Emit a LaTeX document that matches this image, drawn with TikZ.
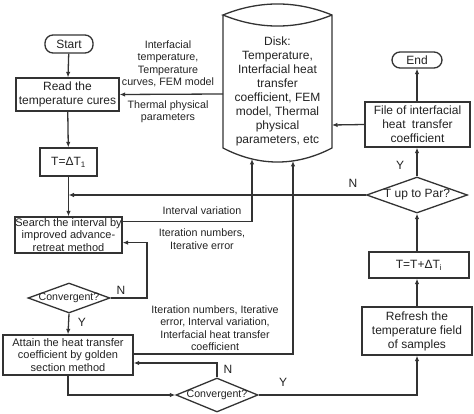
\documentclass[tikz,border=0pt]{standalone}
\usepackage{fontspec}
\setmainfont{Liberation Sans}
\usetikzlibrary{arrows.meta,shapes.geometric,calc}
\definecolor{ln}{HTML}{333333}
\definecolor{tx}{HTML}{222222}
\begin{document}
\begin{tikzpicture}[x=1pt,y=-1pt,
  every node/.style={text=tx},
  line/.style={draw=ln, line width=1.3pt},
  arr/.style={line, -{Latex[length=5.5pt,width=4.5pt]}},
  box/.style={draw=ln, line width=1.3pt, align=center, inner sep=0pt, font=\fontsize{12}{14}\selectfont},
  sbox/.style={box, font=\fontsize{11}{12.6}\selectfont},
  term/.style={box, rounded corners=8pt},
  dia/.style={draw=ln, line width=1.3pt, shape=diamond, inner sep=0pt},
  lab/.style={align=center, inner sep=0pt, font=\fontsize{10.7}{12.4}\selectfont},
  dtext/.style={inner sep=0pt, font=\fontsize{10.6}{12}\selectfont},
  yn/.style={inner sep=0pt, font=\fontsize{12}{14}\selectfont}]
\useasboundingbox (0,0) rectangle (474,414);

% disk outline
\coordinate (dNW) at (223,15);
\coordinate (dSW) at (223,148);
\coordinate (dNE) at (332,15);
\coordinate (dSE) at (332,148);
\coordinate (dL) at (223,94);
\coordinate (dE) at (332,125);
\coordinate (db1) at (252,159);
\coordinate (db2) at (293,161);
\draw[line] (dNW) -- (dSW) .. controls (259,166.7) and (296,166.7) .. (dSE) -- (dNE)
  .. controls (296,0.3) and (259,0.3) .. (dNW) .. controls (259,29.7) and (296,29.7) .. (dNE);
\node[align=center, inner sep=0pt, font=\fontsize{12}{14}\selectfont] (disk) at (277.5,91)
  {Disk:\\Temperature,\\Interfacial heat\\transfer\\coefficient, FEM\\model, Thermal\\physical\\parameters, etc};

% nodes
\node[term, minimum width=48, minimum height=18] (start) at (69,44) {Start};
\node[box, minimum width=103, minimum height=33] (read) at (67.5,94.5) {Read the\\temperature cures};
\node[box, minimum width=57, minimum height=28] (t1) at (68.5,162) {T=ΔT\textsubscript{1}};
\node[sbox, minimum width=107, minimum height=36] (search) at (68.5,235) {Search the interval by\\improved advance-\\retreat method};
\node[dia, minimum width=82, minimum height=30] (c1) at (69,298) {};
\node[dtext] (c1t) at (c1) {Convergent?};
\node[sbox, minimum width=130, minimum height=40] (attain) at (68,355) {Attain the heat transfer\\coefficient by golden\\section method};
\node[dia, minimum width=82, minimum height=34] (c2) at (217,395) {};
\node[dtext] (c2t) at (c2) {Convergent?};
\node[box, minimum width=110, minimum height=48] (refresh) at (417,331) {Refresh the\\temperature field\\of samples};
\node[box, minimum width=100, minimum height=26] (tinc) at (419,265) {T=T+ΔT\textsubscript{i}};
\node[dia, minimum width=101, minimum height=36] (tpar) at (417,195) {};
\node[yn] (tpart) at (tpar) {T up to Par?};
\node[box, minimum width=105, minimum height=45] (file) at (417.5,124.5) {File of interfacial\\heat\hspace{3pt} transfer\\coefficient};
\node[term, minimum width=50, minimum height=16] (end) at (417,60) {End};

% connectors
\draw[arr] (start) -- (read);
\draw[arr] (dL) -- (read.east);
\draw[arr] (read) -- (t1);
\draw[arr] (t1) -- (search);
\draw[arr] (tpar.west) -- (tpar.west -| search.north);
\draw[arr] ($(search.north east)+(0,5)$) -| (db1);
\coordinate (k1) at (147,298);
\draw[arr] (c1.east) -- (k1) |- ($(search.south east)+(0,-11)$);
\draw[arr] (c1.south) -- (attain.north);
\draw[arr] ($(attain.east)+(0,-1)$) -| (db2);
\draw[arr] (attain.south) |- (c2.west);
\draw[arr] (c2.north) |- ($(attain.east)+(0,8)$);
\draw[arr] (c2.east) -| (refresh.south);
\draw[arr] (refresh.north) -- (refresh.north |- tinc.south);
\draw[arr] (tpar.south |- tinc.north) -- (tpar.south);
\draw[arr] (tpar.north) -- (tpar.north |- file.south);
\draw[arr] (end.south |- file.north) -- (end.south);
\draw[arr] (file.west) -- (dE);
\fill[ln] (252,195) circle (1.5);
\fill[ln] (293,195) circle (1.5);

% labels
\node[lab] (l1) at (168,64) {Interfacial\\temperature,\\Temperature\\curves, FEM model};
\node[lab] (l2) at (168,112) {Thermal physical\\parameters};
\node[lab] (l3) at (202,211) {Interval variation};
\node[lab] (l4) at (202,239) {Iteration numbers,\\Iterative error};
\node[lab] (l5) at (215,328) {Iteration numbers, Iterative\\error, Interval variation,\\Interfacial heat transfer\\coefficient};
\node[yn] (n1) at (121,290) {N};
\node[yn] (y1) at (82,322) {Y};
\node[yn] (n2) at (353,183) {N};
\node[yn] (y2) at (400,165) {Y};
\node[yn] (n3) at (228,369) {N};
\node[yn] (y3) at (283,382) {Y};
\end{tikzpicture}
\end{document}
